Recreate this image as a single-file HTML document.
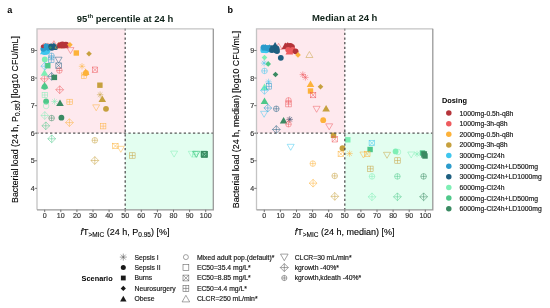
<!DOCTYPE html>
<html><head><meta charset="utf-8"><style>
html,body{margin:0;padding:0;background:#fff;width:550px;height:308px;overflow:hidden}
svg{display:block;filter:blur(0.3px)}
text{font-family:"Liberation Sans",sans-serif}
.tk{font-size:7.1px;fill:#333;stroke:#333;stroke-width:0.15px}
.lab{font-size:9px;font-weight:bold;fill:#000}
.ttl{font-size:9.5px;font-weight:bold;fill:#10231a}
.axt{font-size:9px;fill:#000;stroke:#000;stroke-width:0.12px}
.lgt{font-size:7.35px;font-weight:bold;fill:#000}
.lg{font-size:6.8px;fill:#1a1a1a;stroke:#1a1a1a;stroke-width:0.18px}
</style></head><body>
<svg width="550" height="308" viewBox="0 0 550 308">
<rect x="37.0" y="28.8" width="88.20" height="104.40" fill="#FEE9EE"/>
<rect x="125.20" y="133.20" width="88.10" height="76.60" fill="#E3FEF0"/>
<circle cx="44.5" cy="44.6" r="1.9" fill="#F2A8A4"/>
<circle cx="47.8" cy="44.6" r="1.9" fill="#F2A8A4"/>
<circle cx="44.3" cy="52" r="2.9" fill="#3FC6EE"/>
<circle cx="46.5" cy="51.8" r="2.9" fill="#3FC6EE"/>
<path d="M43.8,47.70L47.60,54.30L40.00,54.30Z" fill="#3FC6EE"/>
<circle cx="47.5" cy="50.5" r="2.9" fill="#3FC6EE"/>
<path d="M53.9,40.70L57.40,46.70L50.40,46.70Z" fill="none" stroke="#EE5B5E" stroke-width="0.5"/>
<path d="M45.5,42.90L49.30,49.50L41.70,49.50Z" fill="#2B9BCB"/>
<circle cx="44" cy="47.5" r="2.9" fill="#2B9BCB"/>
<rect x="43.80" y="44.80" width="5.4" height="5.4" fill="#2B9BCB"/>
<circle cx="43.3" cy="48.8" r="2.9" fill="#2B9BCB"/>
<path d="M48,45.70L50.80,48.5L48,51.30L45.20,48.5Z" fill="#2B9BCB"/>
<circle cx="42.8" cy="46.3" r="1.9" fill="#B5343A"/>
<circle cx="46.5" cy="46.5" r="2.9" fill="#2B9BCB"/>
<path d="M53.9,42.30L57.70,48.90L50.10,48.90Z" fill="#1E5F80"/>
<circle cx="51.2" cy="46.5" r="2.9" fill="#1E5F80"/>
<circle cx="55.2" cy="47.2" r="2.9" fill="#1E5F80"/>
<circle cx="51.8" cy="47.8" r="2.9" fill="#1E5F80"/>
<path d="M54,44.40L56.80,47.2L54,50.00L51.20,47.2Z" fill="#1E5F80"/>
<path d="M50.4,46.00L52.00,47.6L50.4,49.20L48.80,47.6Z" fill="#3A8A62"/>
<path d="M58.5,42.20L62.00,48.20L55.00,48.20Z" fill="none" stroke="#FDB23A" stroke-width="0.5"/>
<path d="M61,41.60L64.80,48.20L57.20,48.20Z" fill="#B5343A"/>
<rect x="60.80" y="42.30" width="5.4" height="5.4" fill="#B5343A"/>
<circle cx="66" cy="44.7" r="2.9" fill="#B5343A"/>
<circle cx="60" cy="45.2" r="2.9" fill="#B5343A"/>
<path d="M65,41.60L68.80,48.20L61.20,48.20Z" fill="#B5343A"/>
<rect x="62.80" y="42.50" width="5.4" height="5.4" fill="#B5343A"/>
<circle cx="62.5" cy="44.5" r="2.9" fill="#B5343A"/>
<path d="M69.9,42.00L72.70,44.8L69.9,47.60L67.10,44.8Z" fill="#FDB23A"/>
<path d="M70.5,53.60L74.00,47.60L67.00,47.60Z" fill="none" stroke="#EE5B5E" stroke-width="0.5"/>
<rect x="73.60" y="50.30" width="5.4" height="5.4" fill="#FDB23A"/>
<path d="M89,50.90L91.80,53.7L89,56.50L86.20,53.7Z" fill="#C6A03E"/>
<circle cx="44.8" cy="59.4" r="2.9" fill="#7EEFB5"/>
<rect x="48.60" y="57.00" width="5.4" height="5.4" fill="none" stroke="#2B9BCB" stroke-width="0.5"/><path d="M48.60,59.7H54.00M51.3,57.00V62.40" fill="none" stroke="#2B9BCB" stroke-width="0.5"/>
<circle cx="51.5" cy="55.8" r="2.8" fill="none" stroke="#2B9BCB" stroke-width="0.5"/><path d="M48.70,55.8H54.30M51.5,53.00V58.60" fill="none" stroke="#2B9BCB" stroke-width="0.5"/>
<path d="M58.6,63.20L62.10,57.20L55.10,57.20Z" fill="none" stroke="#1E5F80" stroke-width="0.5"/>
<rect x="55.90" y="62.90" width="5.4" height="5.4" fill="none" stroke="#1E5F80" stroke-width="0.5"/><path d="M55.90,62.90L61.30,68.30M55.90,68.30L61.30,62.90" fill="none" stroke="#1E5F80" stroke-width="0.5"/>
<path d="M44.8,62.30L48.70,66.2L44.8,70.10L40.90,66.2ZM40.90,66.2H48.70M44.8,62.30V70.10" fill="none" stroke="#3FC6EE" stroke-width="0.5"/>
<rect x="45.10" y="63.00" width="5.4" height="5.4" fill="#4FC88A"/>
<circle cx="59.4" cy="70.5" r="2.8" fill="none" stroke="#EE5B5E" stroke-width="0.5"/><path d="M56.60,70.5H62.20M59.4,67.70V73.30" fill="none" stroke="#EE5B5E" stroke-width="0.5"/>
<path d="M44.5,74.90L48.40,78.8L44.5,82.70L40.60,78.8ZM40.60,78.8H48.40M44.5,74.90V82.70" fill="none" stroke="#EE5B5E" stroke-width="0.5"/>
<path d="M44.5,69.20L48.30,75.80L40.70,75.80Z" fill="#7EEFB5"/>
<path d="M51.6,72.50L55.50,76.4L51.6,80.30L47.70,76.4ZM47.70,76.4H55.50M51.6,72.50V80.30" fill="none" stroke="#1E5F80" stroke-width="0.5"/>
<rect x="51.70" y="74.70" width="5.4" height="5.4" fill="#3A8A62"/>
<circle cx="44.6" cy="86.8" r="2.9" fill="#4FC88A"/>
<path d="M44.6,81.80L48.40,88.40L40.80,88.40Z" fill="#4FC88A"/>
<path d="M59.7,85.80L63.60,89.7L59.7,93.60L55.80,89.7ZM55.80,89.7H63.60M59.7,85.80V93.60" fill="none" stroke="#EE5B5E" stroke-width="0.5"/>
<rect x="42.10" y="92.30" width="5.4" height="5.4" fill="none" stroke="#7EEFB5" stroke-width="0.5"/><path d="M42.10,95H47.50M44.8,92.30V97.70" fill="none" stroke="#7EEFB5" stroke-width="0.5"/>
<circle cx="46.1" cy="101.5" r="2.9" fill="#4FC88A"/>
<circle cx="46.1" cy="106" r="2.8" fill="none" stroke="#7EEFB5" stroke-width="0.5"/>
<path d="M51.30,101.5H57.70M54.5,98.30V104.70M52.24,99.24L56.76,103.76M52.24,103.76L56.76,99.24" fill="none" stroke="#7EEFB5" stroke-width="0.5"/>
<path d="M60,99.40L63.80,106.00L56.20,106.00Z" fill="#3A8A62"/>
<path d="M44.8,111.60L48.70,115.5L44.8,119.40L40.90,115.5ZM40.90,115.5H48.70M44.8,111.60V119.40" fill="none" stroke="#7EEFB5" stroke-width="0.5"/>
<circle cx="51.6" cy="118.1" r="2.8" fill="none" stroke="#3A8A62" stroke-width="0.5"/><path d="M48.80,118.1H54.40M51.6,115.30V120.90" fill="none" stroke="#3A8A62" stroke-width="0.5"/>
<circle cx="61.4" cy="117.7" r="2.9" fill="#3A8A62"/>
<path d="M45.8,121.90L49.70,125.8L45.8,129.70L41.90,125.8ZM41.90,125.8H49.70M45.8,121.90V129.70" fill="none" stroke="#4FC88A" stroke-width="0.5"/>
<path d="M51.7,134.90L55.60,138.8L51.7,142.70L47.80,138.8ZM47.80,138.8H55.60M51.7,134.90V142.70" fill="none" stroke="#4FC88A" stroke-width="0.5"/>
<path d="M78.80,66.3H85.20M82,63.10V69.50M79.74,64.04L84.26,68.56M79.74,68.56L84.26,64.04" fill="none" stroke="#FDB23A" stroke-width="0.5"/>
<rect x="92.30" y="67.00" width="5.4" height="5.4" fill="none" stroke="#EE5B5E" stroke-width="0.5"/><path d="M92.30,67.00L97.70,72.40M92.30,72.40L97.70,67.00" fill="none" stroke="#EE5B5E" stroke-width="0.5"/>
<path d="M85.7,68.40L89.50,75.00L81.90,75.00Z" fill="#FDB23A"/>
<circle cx="86" cy="73" r="2.9" fill="#FDB23A"/>
<rect x="81.30" y="72.90" width="5.4" height="5.4" fill="none" stroke="#FDB23A" stroke-width="0.5"/><path d="M81.30,75.6H86.70M84,72.90V78.30" fill="none" stroke="#FDB23A" stroke-width="0.5"/>
<rect x="97.20" y="82.50" width="5.4" height="5.4" fill="#C6A03E"/>
<path d="M96.90,94.7H103.30M100.1,91.50V97.90M97.84,92.44L102.36,96.96M97.84,96.96L102.36,92.44" fill="none" stroke="#C6A03E" stroke-width="0.5"/>
<path d="M102.3,95.40L106.10,102.00L98.50,102.00Z" fill="#C6A03E"/>
<path d="M96.2,110.80L99.70,104.80L92.70,104.80Z" fill="none" stroke="#FDB23A" stroke-width="0.5"/>
<circle cx="106" cy="108.8" r="2.9" fill="#C6A03E"/>
<rect x="66.90" y="99.20" width="5.4" height="5.4" fill="none" stroke="#FDB23A" stroke-width="0.5"/><path d="M66.90,101.9H72.30M69.6,99.20V104.60" fill="none" stroke="#FDB23A" stroke-width="0.5"/>
<path d="M69.4,118.70L73.30,122.6L69.4,126.50L65.50,122.6ZM65.50,122.6H73.30M69.4,118.70V126.50" fill="none" stroke="#FDB23A" stroke-width="0.5"/>
<rect x="100.50" y="123.50" width="5.4" height="5.4" fill="none" stroke="#FDB23A" stroke-width="0.5"/><path d="M100.50,126.2H105.90M103.2,123.50V128.90" fill="none" stroke="#FDB23A" stroke-width="0.5"/>
<circle cx="94.8" cy="140.3" r="2.8" fill="none" stroke="#C6A03E" stroke-width="0.5"/><path d="M92.00,140.3H97.60M94.8,137.50V143.10" fill="none" stroke="#C6A03E" stroke-width="0.5"/>
<rect x="112.70" y="143.30" width="5.4" height="5.4" fill="none" stroke="#FDB23A" stroke-width="0.5"/><path d="M112.70,143.30L118.10,148.70M112.70,148.70L118.10,143.30" fill="none" stroke="#FDB23A" stroke-width="0.5"/>
<path d="M120.8,152.30L124.30,146.30L117.30,146.30Z" fill="none" stroke="#FDB23A" stroke-width="0.5"/>
<path d="M94.8,156.60L98.70,160.5L94.8,164.40L90.90,160.5ZM90.90,160.5H98.70M94.8,156.60V164.40" fill="none" stroke="#C6A03E" stroke-width="0.5"/>
<rect x="129.70" y="152.80" width="5.4" height="5.4" fill="none" stroke="#C6A03E" stroke-width="0.5"/><path d="M129.70,155.5H135.10M132.4,152.80V158.20" fill="none" stroke="#C6A03E" stroke-width="0.5"/>
<path d="M174.1,157.10L177.60,151.10L170.60,151.10Z" fill="none" stroke="#7EEFB5" stroke-width="0.5"/>
<path d="M191.8,157.30L195.30,151.30L188.30,151.30Z" fill="none" stroke="#7EEFB5" stroke-width="0.5"/>
<rect x="192.30" y="151.60" width="5.4" height="5.4" fill="none" stroke="#7EEFB5" stroke-width="0.5"/><path d="M192.30,154.3H197.70M195,151.60V157.00" fill="none" stroke="#7EEFB5" stroke-width="0.5"/>
<path d="M196.3,157.30L199.80,151.30L192.80,151.30Z" fill="none" stroke="#4FC88A" stroke-width="0.8"/>
<rect x="201.10" y="151.30" width="5.4" height="5.4" fill="none" stroke="#4FC88A" stroke-width="1.0"/><path d="M201.10,154H206.50M203.8,151.30V156.70" fill="none" stroke="#4FC88A" stroke-width="1.0"/>
<rect x="201.70" y="151.60" width="5.4" height="5.4" fill="none" stroke="#3A8A62" stroke-width="1.1"/><path d="M201.70,151.60L207.10,157.00M201.70,157.00L207.10,151.60" fill="none" stroke="#3A8A62" stroke-width="1.1"/>
<rect x="201.70" y="151.60" width="5.4" height="5.4" fill="none" stroke="#3A8A62" stroke-width="1.2"/>
<path d="M125.20,28.20V209.8" stroke="#555" stroke-width="1.3" stroke-dasharray="2.305 2.305" fill="none"/>
<path d="M36.20,133.20H213.3" stroke="#555" stroke-width="1.3" stroke-dasharray="2.305 2.305" fill="none"/>
<path d="M37.0,209.8V28.8H213.3" stroke="#c4c4c4" stroke-width="1.3" fill="none"/>
<path d="M213.3,28.8V209.8H37.0" stroke="#999" stroke-width="1.3" fill="none"/>
<path d="M34.70,188.34H37.0M34.70,160.77H37.0M34.70,133.20H37.0M34.70,105.63H37.0M34.70,78.06H37.0M34.70,50.49H37.0M44.70,209.8V212.10M60.80,209.8V212.10M76.90,209.8V212.10M93.00,209.8V212.10M109.10,209.8V212.10M125.20,209.8V212.10M141.30,209.8V212.10M157.40,209.8V212.10M173.50,209.8V212.10M189.60,209.8V212.10M205.70,209.8V212.10" stroke="#555" stroke-width="0.8" fill="none"/>
<text x="34.60" y="190.94" class="tk" text-anchor="end">4</text>
<text x="34.60" y="163.37" class="tk" text-anchor="end">5</text>
<text x="34.60" y="135.80" class="tk" text-anchor="end">6</text>
<text x="34.60" y="108.23" class="tk" text-anchor="end">7</text>
<text x="34.60" y="80.66" class="tk" text-anchor="end">8</text>
<text x="34.60" y="53.09" class="tk" text-anchor="end">9</text>
<text x="44.70" y="217.6" class="tk" text-anchor="middle">0</text>
<text x="60.80" y="217.6" class="tk" text-anchor="middle">10</text>
<text x="76.90" y="217.6" class="tk" text-anchor="middle">20</text>
<text x="93.00" y="217.6" class="tk" text-anchor="middle">30</text>
<text x="109.10" y="217.6" class="tk" text-anchor="middle">40</text>
<text x="125.20" y="217.6" class="tk" text-anchor="middle">50</text>
<text x="141.30" y="217.6" class="tk" text-anchor="middle">60</text>
<text x="157.40" y="217.6" class="tk" text-anchor="middle">70</text>
<text x="173.50" y="217.6" class="tk" text-anchor="middle">80</text>
<text x="189.60" y="217.6" class="tk" text-anchor="middle">90</text>
<text x="205.70" y="217.6" class="tk" text-anchor="middle">100</text>
<rect x="256.5" y="28.8" width="88.30" height="104.40" fill="#FEE9EE"/>
<rect x="344.80" y="133.20" width="88.00" height="76.60" fill="#E3FEF0"/>
<path d="M278.6,43.30L282.10,49.30L275.10,49.30Z" fill="none" stroke="#EE5B5E" stroke-width="0.5"/>
<circle cx="263.2" cy="50" r="2.9" fill="#3FC6EE"/>
<circle cx="266" cy="50.3" r="2.9" fill="#3FC6EE"/>
<path d="M264.5,45.90L268.30,52.50L260.70,52.50Z" fill="#3FC6EE"/>
<circle cx="263.5" cy="47.3" r="2.9" fill="#2B9BCB"/>
<path d="M265.5,44.00L269.30,50.60L261.70,50.60Z" fill="#2B9BCB"/>
<path d="M269.6,44.20L273.40,50.80L265.80,50.80Z" fill="#2B9BCB"/>
<rect x="264.80" y="45.10" width="5.4" height="5.4" fill="#2B9BCB"/>
<circle cx="270.2" cy="49.6" r="2.9" fill="#2B9BCB"/>
<path d="M268.5,46.70L271.30,49.5L268.5,52.30L265.70,49.5Z" fill="#2B9BCB"/>
<path d="M275.1,41.90L278.90,48.50L271.30,48.50Z" fill="#1E5F80"/>
<rect x="270.30" y="45.30" width="5.4" height="5.4" fill="#1E5F80"/>
<circle cx="276.5" cy="48.5" r="2.9" fill="#1E5F80"/>
<rect x="273.80" y="47.50" width="5.4" height="5.4" fill="#1E5F80"/>
<circle cx="272" cy="50" r="2.9" fill="#1E5F80"/>
<circle cx="277" cy="51" r="2.9" fill="#1E5F80"/>
<path d="M285.3,42.60L289.10,49.20L281.50,49.20Z" fill="#B5343A"/>
<rect x="284.80" y="43.30" width="5.4" height="5.4" fill="#B5343A"/>
<circle cx="290.5" cy="45.8" r="2.9" fill="#B5343A"/>
<path d="M287.8,41.90L291.60,48.50L284.00,48.50Z" fill="#B5343A"/>
<circle cx="292" cy="46.8" r="2.9" fill="#B5343A"/>
<circle cx="288.2" cy="49.8" r="2.9" fill="#EE5B5E"/>
<rect x="287.60" y="48.30" width="5.4" height="5.4" fill="#EE5B5E"/>
<circle cx="292.6" cy="49.8" r="2.9" fill="#EE5B5E"/>
<path d="M289.3,48.00L293.10,54.60L285.50,54.60Z" fill="#EE5B5E"/>
<circle cx="295.6" cy="51.3" r="2.9" fill="#B5343A"/>
<path d="M298,52.10L300.80,54.9L298,57.70L295.20,54.9Z" fill="#FDB23A"/>
<path d="M309.4,51.50L312.90,57.50L305.90,57.50Z" fill="none" stroke="#C6A03E" stroke-width="0.5"/>
<path d="M264.5,54.80L267.30,57.6L264.5,60.40L261.70,57.6Z" fill="#7EEFB5"/>
<circle cx="280.8" cy="57.8" r="2.9" fill="#1E5F80"/>
<path d="M260.90,63.1H267.30M264.1,59.90V66.30M261.84,60.84L266.36,65.36M261.84,65.36L266.36,60.84" fill="none" stroke="#3FC6EE" stroke-width="0.5"/>
<path d="M268.2,61.10L271.00,63.9L268.2,66.70L265.40,63.9Z" fill="#4FC88A"/>
<circle cx="264.5" cy="70.9" r="2.8" fill="none" stroke="#3FC6EE" stroke-width="0.5"/><path d="M261.70,70.9H267.30M264.5,68.10V73.70" fill="none" stroke="#3FC6EE" stroke-width="0.5"/>
<path d="M275.5,71.70L278.30,74.5L275.5,77.30L272.70,74.5Z" fill="#3A8A62"/>
<path d="M265.40,81.9H271.80M268.6,78.70V85.10M266.34,79.64L270.86,84.16M266.34,84.16L270.86,79.64" fill="none" stroke="#3FC6EE" stroke-width="0.5"/>
<path d="M264.5,83.40L268.30,90.00L260.70,90.00Z" fill="#7EEFB5"/>
<path d="M264.5,86.50L268.40,90.4L264.5,94.30L260.60,90.4ZM260.60,90.4H268.40M264.5,86.50V94.30" fill="none" stroke="#3FC6EE" stroke-width="0.5"/>
<rect x="266.30" y="83.70" width="5.4" height="5.4" fill="none" stroke="#2B9BCB" stroke-width="0.5"/><path d="M266.30,86.4H271.70M269,83.70V89.10" fill="none" stroke="#2B9BCB" stroke-width="0.5"/>
<path d="M264.5,97.40L268.30,104.00L260.70,104.00Z" fill="#4FC88A"/>
<path d="M267.8,104.10L271.70,108L267.8,111.90L263.90,108ZM263.90,108H271.70M267.8,104.10V111.90" fill="none" stroke="#2B9BCB" stroke-width="0.5"/>
<path d="M264.1,117.30L267.60,111.30L260.60,111.30Z" fill="none" stroke="#3FC6EE" stroke-width="0.5"/>
<circle cx="276.3" cy="108.8" r="2.8" fill="none" stroke="#1E5F80" stroke-width="0.5"/><path d="M273.50,108.8H279.10M276.3,106.00V111.60" fill="none" stroke="#1E5F80" stroke-width="0.5"/>
<circle cx="288.5" cy="100.4" r="2.8" fill="none" stroke="#EE5B5E" stroke-width="0.5"/><path d="M285.70,100.4H291.30M288.5,97.60V103.20" fill="none" stroke="#EE5B5E" stroke-width="0.5"/>
<rect x="285.80" y="101.50" width="5.4" height="5.4" fill="none" stroke="#EE5B5E" stroke-width="0.5"/><path d="M285.80,104.2H291.20M288.5,101.50V106.90" fill="none" stroke="#EE5B5E" stroke-width="0.5"/>
<path d="M283.6,116.90L287.40,123.50L279.80,123.50Z" fill="#3A8A62"/>
<path d="M286.10,119.8H292.50M289.3,116.60V123.00M287.04,117.54L291.56,122.06M287.04,122.06L291.56,117.54" fill="none" stroke="#EE5B5E" stroke-width="0.5"/>
<path d="M286.60,119.3H293.00M289.8,116.10V122.50M287.54,117.04L292.06,121.56M287.54,121.56L292.06,117.04" fill="none" stroke="#1E5F80" stroke-width="0.5"/>
<circle cx="288.5" cy="124.2" r="2.8" fill="none" stroke="#EE5B5E" stroke-width="0.5"/><path d="M285.70,124.2H291.30M288.5,121.40V127.00" fill="none" stroke="#EE5B5E" stroke-width="0.5"/>
<path d="M276.3,125.60L280.20,129.5L276.3,133.40L272.40,129.5ZM272.40,129.5H280.20M276.3,125.60V133.40" fill="none" stroke="#1E5F80" stroke-width="0.5"/>
<path d="M299.60,74.6H306.00M302.8,71.40V77.80M300.54,72.34L305.06,76.86M300.54,76.86L305.06,72.34" fill="none" stroke="#EE5B5E" stroke-width="0.5"/>
<path d="M302.20,77.4H308.60M305.4,74.20V80.60M303.14,75.14L307.66,79.66M303.14,79.66L307.66,75.14" fill="none" stroke="#EE5B5E" stroke-width="0.5"/>
<path d="M310.5,80.40L314.30,87.00L306.70,87.00Z" fill="#FDB23A"/>
<path d="M320.5,84.00L323.30,86.8L320.5,89.60L317.70,86.8Z" fill="#C6A03E"/>
<rect x="307.80" y="88.30" width="5.4" height="5.4" fill="#FDB23A"/>
<rect x="310.40" y="92.40" width="5.4" height="5.4" fill="none" stroke="#EE5B5E" stroke-width="0.5"/><path d="M310.40,92.40L315.80,97.80M310.40,97.80L315.80,92.40" fill="none" stroke="#EE5B5E" stroke-width="0.5"/>
<path d="M316.6,112.30L320.10,106.30L313.10,106.30Z" fill="none" stroke="#EE5B5E" stroke-width="0.5"/>
<path d="M326.1,104.90L329.90,111.50L322.30,111.50Z" fill="#C6A03E"/>
<circle cx="323.2" cy="120.2" r="2.9" fill="#FDB23A"/>
<path d="M329.2,129.80L332.70,123.80L325.70,123.80Z" fill="none" stroke="#EE5B5E" stroke-width="0.5"/>
<rect x="330.80" y="132.60" width="5.4" height="5.4" fill="#C6A03E"/>
<rect x="332.10" y="136.60" width="5.4" height="5.4" fill="none" stroke="#EE5B5E" stroke-width="0.5"/><path d="M332.10,136.60L337.50,142.00M332.10,142.00L337.50,136.60" fill="none" stroke="#EE5B5E" stroke-width="0.5"/>
<rect x="345.10" y="137.10" width="5.4" height="5.4" fill="#7EEFB5"/>
<circle cx="342.5" cy="148.2" r="2.9" fill="#C6A03E"/>
<rect x="338.10" y="151.20" width="5.4" height="5.4" fill="none" stroke="#FDB23A" stroke-width="0.5"/><path d="M338.10,151.20L343.50,156.60M338.10,156.60L343.50,151.20" fill="none" stroke="#FDB23A" stroke-width="0.5"/>
<path d="M346.40,153.6H352.80M349.6,150.40V156.80M347.34,151.34L351.86,155.86M347.34,155.86L351.86,151.34" fill="none" stroke="#FDB23A" stroke-width="0.5"/>
<path d="M290.7,150.30L294.20,144.30L287.20,144.30Z" fill="none" stroke="#3FC6EE" stroke-width="0.5"/>
<circle cx="312.8" cy="163.6" r="2.8" fill="none" stroke="#FDB23A" stroke-width="0.5"/><path d="M310.00,163.6H315.60M312.8,160.80V166.40" fill="none" stroke="#FDB23A" stroke-width="0.5"/>
<circle cx="334.7" cy="175.9" r="2.8" fill="none" stroke="#C6A03E" stroke-width="0.5"/><path d="M331.90,175.9H337.50M334.7,173.10V178.70" fill="none" stroke="#C6A03E" stroke-width="0.5"/>
<path d="M313.1,179.30L317.00,183.2L313.1,187.10L309.20,183.2ZM309.20,183.2H317.00M313.1,179.30V187.10" fill="none" stroke="#FDB23A" stroke-width="0.5"/>
<path d="M334.8,192.50L338.70,196.4L334.8,200.30L330.90,196.4ZM330.90,196.4H338.70M334.8,192.50V200.30" fill="none" stroke="#C6A03E" stroke-width="0.5"/>
<rect x="369.10" y="140.30" width="5.4" height="5.4" fill="none" stroke="#3FC6EE" stroke-width="0.5"/><path d="M369.10,140.30L374.50,145.70M369.10,145.70L374.50,140.30" fill="none" stroke="#3FC6EE" stroke-width="0.5"/>
<rect x="367.40" y="146.80" width="5.4" height="5.4" fill="#4FC88A"/>
<path d="M363.4,158.00L366.90,152.00L359.90,152.00Z" fill="none" stroke="#FDB23A" stroke-width="0.5"/>
<rect x="364.60" y="151.30" width="5.4" height="5.4" fill="none" stroke="#FDB23A" stroke-width="0.5"/><path d="M364.60,151.30L370.00,156.70M364.60,156.70L370.00,151.30" fill="none" stroke="#FDB23A" stroke-width="0.5"/>
<path d="M387,158.30L390.50,152.30L383.50,152.30Z" fill="none" stroke="#C6A03E" stroke-width="0.5"/>
<rect x="367.70" y="166.10" width="5.4" height="5.4" fill="none" stroke="#C6A03E" stroke-width="0.5"/><path d="M367.70,168.8H373.10M370.4,166.10V171.50" fill="none" stroke="#C6A03E" stroke-width="0.5"/>
<circle cx="372" cy="176.4" r="2.8" fill="none" stroke="#7EEFB5" stroke-width="0.5"/><path d="M369.20,176.4H374.80M372,173.60V179.20" fill="none" stroke="#7EEFB5" stroke-width="0.5"/>
<circle cx="397.4" cy="176.4" r="2.8" fill="none" stroke="#4FC88A" stroke-width="0.5"/><path d="M394.60,176.4H400.20M397.4,173.60V179.20" fill="none" stroke="#4FC88A" stroke-width="0.5"/>
<circle cx="423.6" cy="176.4" r="2.8" fill="none" stroke="#3A8A62" stroke-width="0.5"/><path d="M420.80,176.4H426.40M423.6,173.60V179.20" fill="none" stroke="#3A8A62" stroke-width="0.5"/>
<path d="M372,192.90L375.90,196.8L372,200.70L368.10,196.8ZM368.10,196.8H375.90M372,192.90V200.70" fill="none" stroke="#7EEFB5" stroke-width="0.5"/>
<path d="M397.4,192.90L401.30,196.8L397.4,200.70L393.50,196.8ZM393.50,196.8H401.30M397.4,192.90V200.70" fill="none" stroke="#4FC88A" stroke-width="0.5"/>
<path d="M423.6,192.90L427.50,196.8L423.6,200.70L419.70,196.8ZM419.70,196.8H427.50M423.6,192.90V200.70" fill="none" stroke="#3A8A62" stroke-width="0.5"/>
<circle cx="395.6" cy="151.4" r="2.9" fill="#7EEFB5"/>
<circle cx="398" cy="152" r="2.8" fill="none" stroke="#7EEFB5" stroke-width="0.5"/>
<rect x="394.80" y="157.80" width="5.4" height="5.4" fill="none" stroke="#C6A03E" stroke-width="0.5"/><path d="M394.80,160.5H400.20M397.5,157.80V163.20" fill="none" stroke="#C6A03E" stroke-width="0.5"/>
<path d="M411.2,158.00L414.70,152.00L407.70,152.00Z" fill="none" stroke="#7EEFB5" stroke-width="0.5"/>
<path d="M413.80,154H420.20M417,150.80V157.20M414.74,151.74L419.26,156.26M414.74,156.26L419.26,151.74" fill="none" stroke="#7EEFB5" stroke-width="0.5"/>
<rect x="419.80" y="150.30" width="5.4" height="5.4" fill="#4FC88A"/>
<rect x="421.50" y="151.30" width="5.4" height="5.4" fill="#3A8A62"/>
<rect x="422.30" y="153.30" width="5.4" height="5.4" fill="#3A8A62"/>
<rect x="421.30" y="151.80" width="5.4" height="5.4" fill="none" stroke="#3A8A62" stroke-width="0.5"/><path d="M421.30,151.80L426.70,157.20M421.30,157.20L426.70,151.80" fill="none" stroke="#3A8A62" stroke-width="0.5"/>
<path d="M344.80,28.20V209.8" stroke="#555" stroke-width="1.3" stroke-dasharray="2.305 2.305" fill="none"/>
<path d="M255.70,133.20H432.8" stroke="#555" stroke-width="1.3" stroke-dasharray="2.305 2.305" fill="none"/>
<path d="M256.5,209.8V28.8H432.8" stroke="#c4c4c4" stroke-width="1.3" fill="none"/>
<path d="M432.8,28.8V209.8H256.5" stroke="#999" stroke-width="1.3" fill="none"/>
<path d="M254.20,188.34H256.5M254.20,160.77H256.5M254.20,133.20H256.5M254.20,105.63H256.5M254.20,78.06H256.5M254.20,50.49H256.5M264.30,209.8V212.10M280.40,209.8V212.10M296.50,209.8V212.10M312.60,209.8V212.10M328.70,209.8V212.10M344.80,209.8V212.10M360.90,209.8V212.10M377.00,209.8V212.10M393.10,209.8V212.10M409.20,209.8V212.10M425.30,209.8V212.10" stroke="#555" stroke-width="0.8" fill="none"/>
<text x="254.10" y="190.94" class="tk" text-anchor="end">4</text>
<text x="254.10" y="163.37" class="tk" text-anchor="end">5</text>
<text x="254.10" y="135.80" class="tk" text-anchor="end">6</text>
<text x="254.10" y="108.23" class="tk" text-anchor="end">7</text>
<text x="254.10" y="80.66" class="tk" text-anchor="end">8</text>
<text x="254.10" y="53.09" class="tk" text-anchor="end">9</text>
<text x="264.30" y="217.6" class="tk" text-anchor="middle">0</text>
<text x="280.40" y="217.6" class="tk" text-anchor="middle">10</text>
<text x="296.50" y="217.6" class="tk" text-anchor="middle">20</text>
<text x="312.60" y="217.6" class="tk" text-anchor="middle">30</text>
<text x="328.70" y="217.6" class="tk" text-anchor="middle">40</text>
<text x="344.80" y="217.6" class="tk" text-anchor="middle">50</text>
<text x="360.90" y="217.6" class="tk" text-anchor="middle">60</text>
<text x="377.00" y="217.6" class="tk" text-anchor="middle">70</text>
<text x="393.10" y="217.6" class="tk" text-anchor="middle">80</text>
<text x="409.20" y="217.6" class="tk" text-anchor="middle">90</text>
<text x="425.30" y="217.6" class="tk" text-anchor="middle">100</text>
<text x="7.2" y="13" class="lab">a</text>
<text x="227.6" y="13" class="lab">b</text>
<text x="125.1" y="21.6" class="ttl" text-anchor="middle">95<tspan dy="-3.3" font-size="6">th</tspan><tspan dy="3.3"> percentile at 24 h</tspan></text>
<text x="344.7" y="21.4" class="ttl" text-anchor="middle">Median at 24 h</text>
<text transform="translate(18.2,119.5) rotate(-90)" class="axt" style="font-size:8.85px" text-anchor="middle">Bacterial load (24 h, P<tspan dy="2.1" font-size="6.5">0.95</tspan><tspan dy="-2.1">) [log10 CFU/mL]</tspan></text>
<text transform="translate(238.6,119.5) rotate(-90)" class="axt" style="font-size:8.85px" text-anchor="middle">Bacterial load (24 h, median) [log10 CFU/mL]</text>
<text x="125" y="234.6" class="axt" text-anchor="middle"><tspan font-style="italic">f</tspan>T<tspan dy="2.1" font-size="6.5">&gt;MIC</tspan><tspan dy="-2.1"> (24 h, P</tspan><tspan dy="2.1" font-size="6.5">0.95</tspan><tspan dy="-2.1">) [%]</tspan></text>
<text x="344.6" y="234.6" class="axt" text-anchor="middle"><tspan font-style="italic">f</tspan>T<tspan dy="2.1" font-size="6.5">&gt;MIC</tspan><tspan dy="-2.1"> (24 h, median) [%]</tspan></text>
<text x="442" y="103.3" class="lgt">Dosing</text>
<circle cx="448.8" cy="113.10" r="2.75" fill="#B5343A"/>
<text x="459.6" y="115.60" class="lg">1000mg-0.5h-q8h</text>
<circle cx="448.8" cy="123.72" r="2.75" fill="#EE5B5E"/>
<text x="459.6" y="126.22" class="lg">1000mg-3h-q8h</text>
<circle cx="448.8" cy="134.34" r="2.75" fill="#FDB23A"/>
<text x="459.6" y="136.84" class="lg">2000mg-0.5h-q8h</text>
<circle cx="448.8" cy="144.96" r="2.75" fill="#C6A03E"/>
<text x="459.6" y="147.46" class="lg">2000mg-3h-q8h</text>
<circle cx="448.8" cy="155.58" r="2.75" fill="#3FC6EE"/>
<text x="459.6" y="158.08" class="lg">3000mg-CI24h</text>
<circle cx="448.8" cy="166.20" r="2.75" fill="#2B9BCB"/>
<text x="459.6" y="168.70" class="lg">3000mg-CI24h+LD500mg</text>
<circle cx="448.8" cy="176.82" r="2.75" fill="#1E5F80"/>
<text x="459.6" y="179.32" class="lg">3000mg-CI24h+LD1000mg</text>
<circle cx="448.8" cy="187.44" r="2.75" fill="#7EEFB5"/>
<text x="459.6" y="189.94" class="lg">6000mg-CI24h</text>
<circle cx="448.8" cy="198.06" r="2.75" fill="#4FC88A"/>
<text x="459.6" y="200.56" class="lg">6000mg-CI24h+LD500mg</text>
<circle cx="448.8" cy="208.68" r="2.75" fill="#3A8A62"/>
<text x="459.6" y="211.18" class="lg">6000mg-CI24h+LD1000mg</text>
<text x="81.6" y="281.2" class="lgt">Scenario</text>
<path d="M119.80,257.1H126.80M123.3,253.60V260.60M120.83,254.63L125.77,259.57M120.83,259.57L125.77,254.63" stroke="#555" stroke-width="0.55" fill="none"/>
<text x="134.5" y="259.50" class="lg">Sepsis I</text>
<circle cx="123.3" cy="267.55" r="2.5" fill="#1a1a1a"/>
<text x="134.5" y="269.95" class="lg">Sepsis II</text>
<rect x="120.90" y="275.60" width="4.8" height="4.8" fill="#1a1a1a"/>
<text x="134.5" y="280.40" class="lg">Burns</text>
<path d="M123.3,285.85L125.90,288.45000000000005L123.3,291.05L120.70,288.45000000000005Z" fill="#1a1a1a"/>
<text x="134.5" y="290.85" class="lg">Neurosurgery</text>
<path d="M123.3,295.80L126.50,301.50L120.10,301.50Z" fill="#1a1a1a"/>
<text x="134.5" y="301.30" class="lg">Obese</text>
<circle cx="185.9" cy="257.1" r="2.5" fill="none" stroke="#666" stroke-width="0.6"/>
<text x="196.9" y="259.50" class="lg">Mixed adult pop.(default)*</text>
<rect x="183.00" y="264.65" width="5.8" height="5.8" fill="none" stroke="#666" stroke-width="0.6"/>
<text x="196.9" y="269.95" class="lg">EC50=35.4 mg/L*</text>
<rect x="183.00" y="275.10" width="5.8" height="5.8" fill="none" stroke="#666" stroke-width="0.6"/><path d="M183.00,275.10L188.80,280.90M183.00,280.90L188.80,275.10" fill="none" stroke="#666" stroke-width="0.6"/>
<text x="196.9" y="280.40" class="lg">EC50=8.85 mg/L*</text>
<rect x="183.00" y="285.55" width="5.8" height="5.8" fill="none" stroke="#666" stroke-width="0.6"/><path d="M183.00,288.45000000000005H188.80M185.9,285.55V291.35" fill="none" stroke="#666" stroke-width="0.6"/>
<text x="196.9" y="290.85" class="lg">EC50=4.4 mg/L*</text>
<path d="M185.9,295.30L189.70,301.90L182.10,301.90Z" fill="none" stroke="#666" stroke-width="0.6"/>
<text x="196.9" y="301.30" class="lg">CLCR=250 mL/min*</text>
<path d="M284.3,260.70L288.10,254.10L280.50,254.10Z" fill="none" stroke="#666" stroke-width="0.6"/>
<text x="294.7" y="259.50" class="lg">CLCR=30 mL/min*</text>
<path d="M284.3,263.55L288.30,267.55L284.3,271.55L280.30,267.55ZM280.30,267.55H288.30M284.3,263.55V271.55" fill="none" stroke="#666" stroke-width="0.6"/>
<text x="294.7" y="269.95" class="lg">kgrowth -40%*</text>
<circle cx="284.3" cy="278.0" r="2.6" fill="none" stroke="#666" stroke-width="0.6"/><path d="M281.70,278.0H286.90M284.3,275.40V280.60" fill="none" stroke="#666" stroke-width="0.6"/>
<text x="294.7" y="280.40" class="lg">kgrowth,kdeath -40%*</text>
</svg>
</body></html>
